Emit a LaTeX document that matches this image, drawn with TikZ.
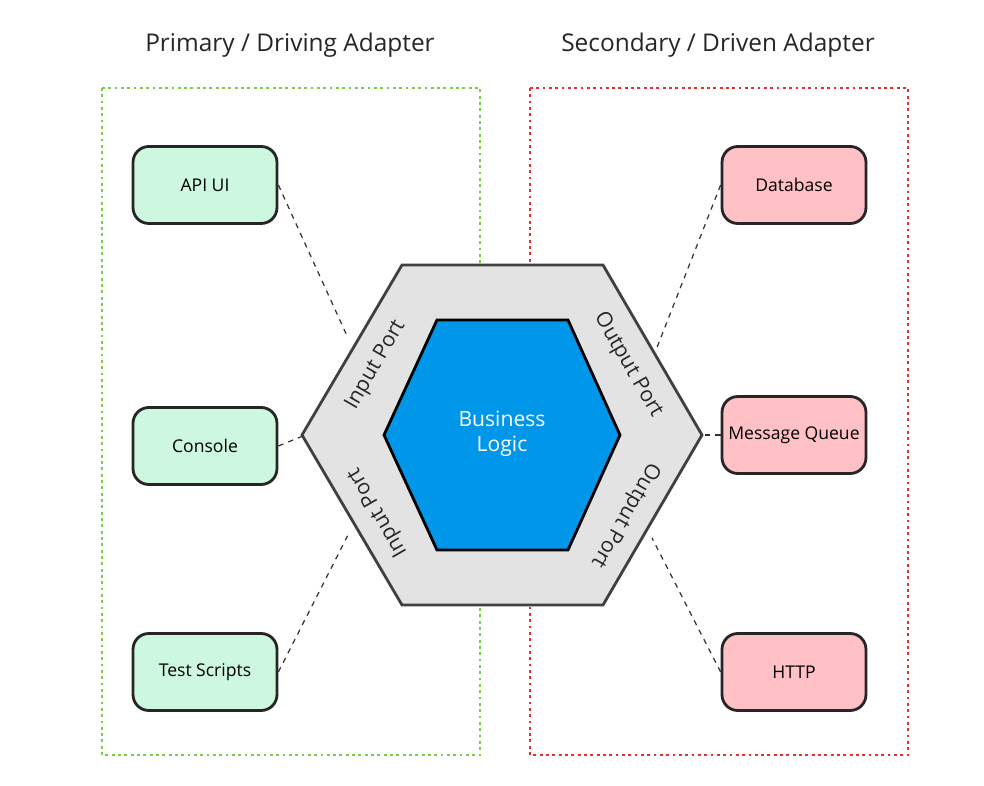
\documentclass[tikz,border=0pt]{standalone}
\usepackage{fontspec}
\setmainfont{Open Sans}
\definecolor{gline}{RGB}{120,205,70}
\definecolor{rline}{RGB}{225,50,40}
\definecolor{gfill}{RGB}{205,247,222}
\definecolor{rfill}{RGB}{255,192,198}
\definecolor{blue1}{RGB}{0,150,234}
\begin{document}
\begin{tikzpicture}[x=0.02cm,y=-0.02cm,
  box/.style={draw=black!85,line width=1.6pt,rounded corners=9pt,minimum width=2.88cm,minimum height=1.54cm,font=\normalsize},
  pbox/.style={box,fill=gfill},
  sbox/.style={box,fill=rfill},
  conn/.style={dashed,line width=0.7pt,black!80},
  port/.style={font=\large,text=black!85},
  title/.style={font=\fontsize{13.9}{17}\selectfont,text=black!85}]
\useasboundingbox (0,0) rectangle (984,786);
\node[title] (t1) at (290,45) {Primary / Driving Adapter};
\node[title] (t2) at (718,45) {Secondary / Driven Adapter};
\draw[gline,dotted,line width=1.6pt] (102,88) rectangle (480,755);
\draw[rline,dotted,line width=1.6pt] (530,88) rectangle (908,755);
\draw[fill=black!11,draw=black!75,line width=1.6pt] (402,265)--(603,265)--(702,435)--(603,605)--(402,605)--(302,435)--cycle;
\draw[fill=blue1,draw=black,line width=1.6pt] (437,320)--(568,320)--(620,435)--(568,550)--(437,550)--(384,435)--cycle;
\node[text=white,align=center,font=\large] (bl) at (502,434) {Business\\Logic};
\node[port,rotate=60] (ip1) at (376,365) {Input Port};
\node[port,rotate=120] (ip2) at (378,512) {Input Port};
\node[port,rotate=-60] (op1) at (628,365) {Output Port};
\node[port,rotate=-120] (op2) at (625,515) {Output Port};
\coordinate (c1) at (348,338);
\coordinate (c2) at (303,436);
\coordinate (c3) at (348,535);
\coordinate (c4) at (656,350);
\coordinate (c5) at (703,435);
\coordinate (c6) at (652,538);
\node[pbox] (api) at (205,185) {API UI};
\node[pbox] (con) at (205,446) {Console};
\node[pbox] (ts) at (205,672) {Test Scripts};
\node[sbox] (db) at (794,185) {Database};
\node[sbox] (mq) at (794,435) {Message Queue};
\node[sbox] (http) at (794,672) {HTTP};
\draw[conn] (api.east) -- (c1);
\draw[conn] (con.east) -- (c2);
\draw[conn] (ts.east) -- (c3);
\draw[conn] (db.west) -- (c4);
\draw[conn] (mq.west) -- (c5);
\draw[conn] (http.west) -- (c6);
\end{tikzpicture}
\end{document}
